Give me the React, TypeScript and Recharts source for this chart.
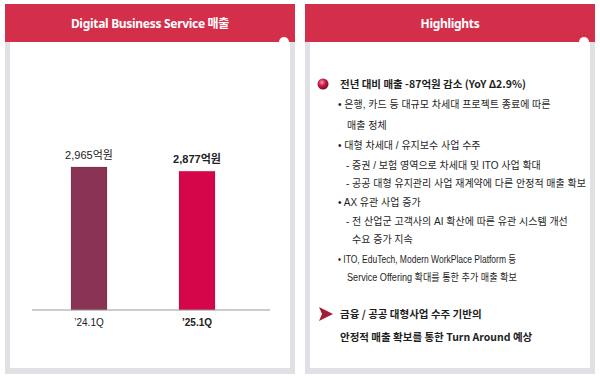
import React from "react";
import { BarChart, Bar, XAxis, YAxis, Cell, LabelList } from "recharts";

const periods = ["\u201924.1Q", "\u201925.1Q"];
const revenue = [2965, 2877];
const barColors = ["#8a3355", "#d5064a"];
const unit = "억원";

const chartData = periods.map((p, i) => ({ period: p, value: revenue[i] }));

const RED = "#d32f4b";
const FRAME = "#e1e1e5";
const KR = "'Noto Sans CJK KR', sans-serif";
const ARIAL_KR = "'Liberation Sans', 'Noto Sans CJK KR', sans-serif";

// value label above each bar, last one bold
const ValueLabel = (props: any) => {
  const { x, y, width, value, index } = props;
  const bold = index === periods.length - 1;
  return (
    <text
      x={x + width / 2}
      y={y - 8}
      textAnchor="middle"
      fontSize={11}
      fontWeight={bold ? 700 : 400}
      fill="#222"
      fontFamily={ARIAL_KR}
    >
      {value.toLocaleString("en-US")}
      {unit}
    </text>
  );
};

const PeriodTick = (props: any) => {
  const { x, y, payload, index } = props;
  const bold = index === periods.length - 1;
  return (
    <text
      x={x}
      y={y + 8}
      textAnchor="middle"
      fontSize={10}
      fontWeight={bold ? 700 : 400}
      fill="#222"
      fontFamily="'Liberation Sans', sans-serif"
    >
      {payload.value}
    </text>
  );
};

function Panel({ left, title }: { left: number; title: string }) {
  return (
    <>
      <div
        style={{
          position: "absolute",
          left,
          top: 4,
          width: 290,
          height: 370,
          background: FRAME,
        }}
      />
      <div
        style={{
          position: "absolute",
          left: left + 5,
          top: 42,
          width: 280,
          height: 326,
          background: "#fff",
        }}
      />
      <div
        style={{
          position: "absolute",
          left,
          top: 4,
          width: 290,
          height: 38,
          background: RED,
          color: "#fff",
          fontFamily: "'Noto Sans', 'Noto Sans CJK KR', sans-serif",
          fontWeight: 700,
          fontSize: 12,
          letterSpacing: -0.3,
          display: "flex",
          alignItems: "center",
          justifyContent: "center",
        }}
      >
        {title}
      </div>
      {/* small notch at bottom-right of header */}
      <div
        style={{
          position: "absolute",
          left: left + 274,
          top: 37,
          width: 10,
          height: 10,
          background: "#fff",
          borderRadius: "50% 50% 0 0",
        }}
      />
    </>
  );
}

type Line = { x: number; y: number; text: string; bold?: boolean; size?: number; sx?: number };

const lines: Line[] = [
  { x: 340, y: 84, text: "전년 대비 매출 -87억원 감소 (YoY Δ2.9%)", bold: true, size: 10.5 },
  { x: 338, y: 105, text: "• 은행, 카드 등 대규모 차세대 프로젝트 종료에 따른" },
  { x: 347, y: 126, text: "매출 정체" },
  { x: 338, y: 146, text: "• 대형 차세대 / 유지보수 사업 수주" },
  { x: 346, y: 166, text: "- 증권 / 보험 영역으로 차세대 및 ITO 사업 확대" },
  { x: 346, y: 184, text: "- 공공 대형 유지관리 사업 재계약에 다른 안정적 매출 확보" },
  { x: 338, y: 203, text: "• AX 유관 사업 증가" },
  { x: 346, y: 222, text: "- 전 산업군 고객사의 AI 확산에 따른 유관 시스템 개선" },
  { x: 352, y: 240, text: "수요 증가 지속" },
  { x: 338, y: 260, text: "• ITO, EduTech, Modern WorkPlace Platform 등", sx: 0.85 },
  { x: 347, y: 278, text: "Service Offering 확대를 통한 추가 매출 확보", sx: 0.91 },
  { x: 340, y: 314, text: "금융 / 공공 대형사업 수주 기반의", bold: true, size: 10.5 },
  { x: 340, y: 337, text: "안정적 매출 확보를 통한 Turn Around 예상", bold: true, size: 10.5 },
];

export default function App() {
  return (
    <div
      style={{
        position: "fixed",
        left: 0,
        top: 0,
        width: 600,
        height: 380,
        background: "#fff",
        overflow: "hidden",
      }}
    >
      <Panel left={5} title="Digital Business Service 매출" />
      <Panel left={305} title="Highlights" />

      <div style={{ position: "absolute", left: 10, top: 42 }}>
        <BarChart
          width={280}
          height={326}
          data={chartData}
          margin={{ top: 75, right: 20, bottom: 28, left: 22 }}
        >
          <XAxis
            dataKey="period"
            axisLine={{ stroke: "#999", strokeWidth: 1 }}
            tickLine={false}
            height={30}
            padding={{ left: 3, right: 19 }}
            tick={<PeriodTick />}
            interval={0}
          />
          <YAxis hide domain={[0, 4000]} />
          <Bar dataKey="value" barSize={36} isAnimationActive={false}>
            {chartData.map((d, i) => (
              <Cell key={d.period} fill={barColors[i]} stroke="rgba(0,0,0,0.12)" />
            ))}
            <LabelList dataKey="value" content={<ValueLabel />} />
          </Bar>
        </BarChart>
      </div>

      {/* sphere bullet */}
      <svg style={{ position: "absolute", left: 316, top: 77 }} width={14} height={14}>
        <defs>
          <radialGradient id="sph" cx="40%" cy="35%" r="65%">
            <stop offset="0%" stopColor="#f7a0b4" />
            <stop offset="45%" stopColor="#d0204a" />
            <stop offset="100%" stopColor="#7a0a24" />
          </radialGradient>
        </defs>
        <circle cx={7} cy={7} r={5.5} fill="url(#sph)" />
      </svg>

      {/* arrow marker */}
      <svg style={{ position: "absolute", left: 318, top: 306 }} width={16} height={16}>
        <path d="M1 1 L15 8 L1 15 L4 8 Z" fill="#a51d33" />
      </svg>

      {lines.map((l, i) => (
        <div
          key={i}
          style={{
            position: "absolute",
            left: l.x,
            top: l.y - 8,
            lineHeight: "16px",
            whiteSpace: "nowrap",
            fontSize: l.size ?? 10,
            fontWeight: l.bold ? 700 : 400,
            fontFamily: l.bold ? KR : ARIAL_KR,
            color: "#1e1e1e",
            transform: l.sx ? `scaleX(${l.sx})` : undefined,
            transformOrigin: "left center",
          }}
        >
          {l.text}
        </div>
      ))}
    </div>
  );
}
